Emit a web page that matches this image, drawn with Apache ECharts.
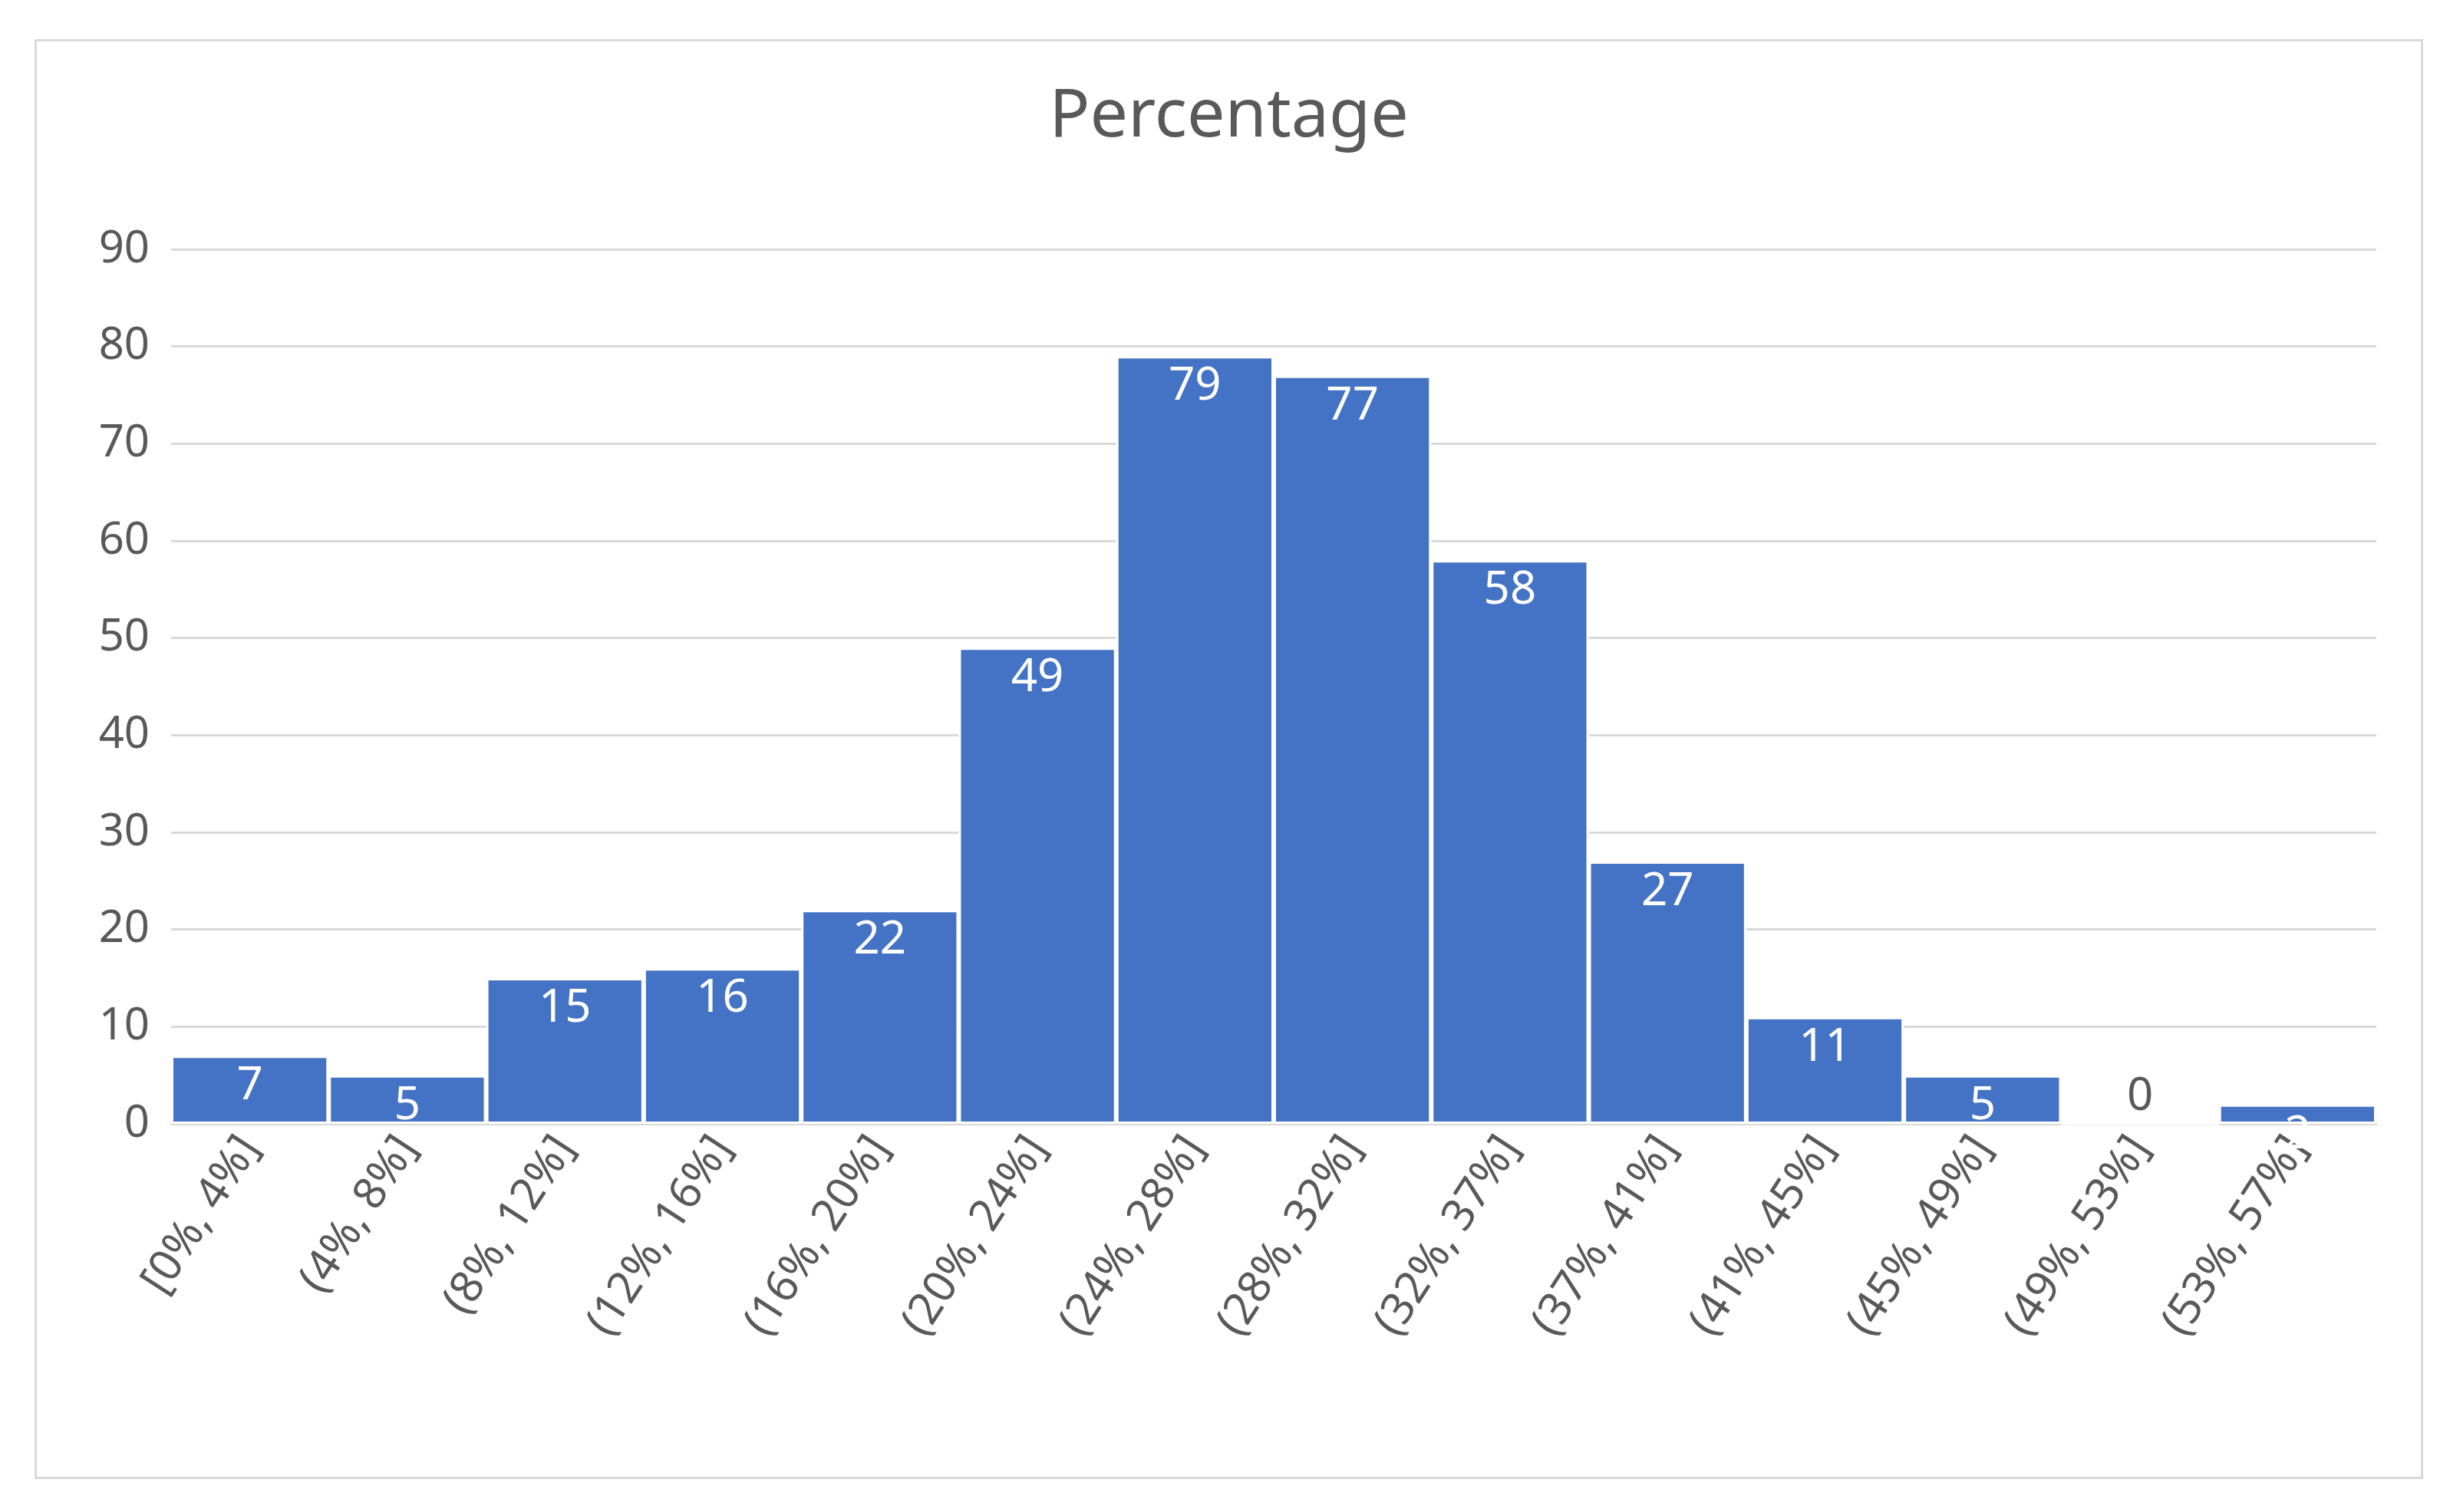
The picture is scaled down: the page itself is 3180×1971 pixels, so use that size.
<!DOCTYPE html>
<html style="height: 100%">
<head>
    <meta charset="utf-8">
</head>
<body style="height: 100%; margin: 0; background: #fff">
<div id="container" style="position:absolute; left:45px; top:51px; width:3113px; height:1877px; border:3px solid #d9d9d9; box-sizing:border-box"></div>
<script type="text/javascript" src="https://cdn.jsdelivr.net/npm/echarts@6/dist/echarts.min.js"></script>
<script type="text/javascript">
    var dom = document.getElementById("container");
    var myChart = echarts.init(dom);

    var bins = ['[0%, 4%]', '(4%, 8%]', '(8%, 12%]', '(12%, 16%]', '(16%, 20%]', '(20%, 24%]', '(24%, 28%]',
        '(28%, 32%]', '(32%, 37%]', '(37%, 41%]', '(41%, 45%]', '(45%, 49%]', '(49%, 53%]', '(53%, 57%]'];
    var counts = [7, 5, 15, 16, 22, 49, 79, 77, 58, 27, 11, 5, 0, 2];
    var yTicks = [0, 10, 20, 30, 40, 50, 60, 70, 80, 90];

    var font = 'Noto Sans';
    var grey = '#595959';

    var seriesData = counts.map(function (v) {
        if (v === 0) {
            return { value: v, label: { position: 'top', color: grey, distance: 4 } };
        }
        return v;
    });

    var option = {
        title: {
            text: 'Percentage',
            left: 'center',
            top: 50,
            textStyle: { fontFamily: font, fontSize: 88, fontWeight: 'normal', color: grey }
        },
        grid: { left: 175, right: 58, top: 271, bottom: 460 },
        xAxis: {
            type: 'category',
            data: bins,
            axisLine: { lineStyle: { color: '#d9d9d9', width: 3 } },
            axisTick: { show: false },
            axisLabel: { fontFamily: font, fontSize: 58, color: grey, rotate: 57, interval: 0, margin: 22 }
        },
        yAxis: {
            type: 'value',
            min: yTicks[0],
            max: yTicks[yTicks.length - 1],
            interval: 10,
            axisLine: { show: false },
            axisTick: { show: false },
            splitLine: { lineStyle: { color: '#d9d9d9', width: 3 } },
            axisLabel: { fontFamily: font, fontSize: 58, color: grey, margin: 28 }
        },
        series: [{
            type: 'bar',
            data: seriesData,
            barCategoryGap: '0%',
            itemStyle: { color: '#4472C4', borderColor: '#ffffff', borderWidth: 3 },
            label: {
                show: true,
                position: 'insideTop',
                distance: 10,
                color: '#ffffff',
                fontFamily: font,
                fontSize: 60
            }
        }]
    };

    myChart.setOption(option, true);
</script>
</body>
</html>
